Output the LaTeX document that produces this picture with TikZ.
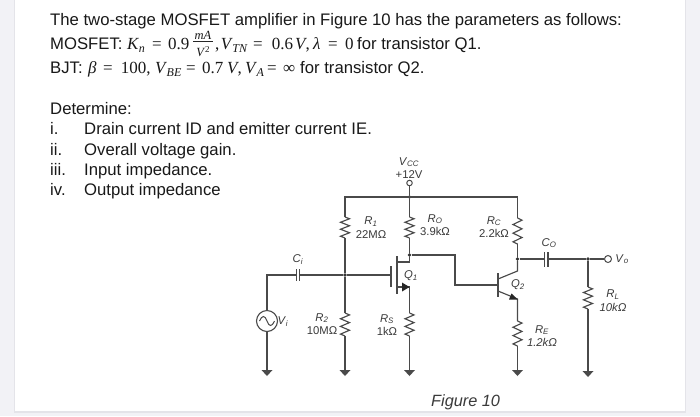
\documentclass[tikz,border=0pt]{standalone}
\usepackage{fontspec}
\setmainfont{Liberation Sans}
\newfontfamily\mf{Liberation Serif}
\usetikzlibrary{calc}
\definecolor{wire}{HTML}{4A4A4A}
\definecolor{lab}{HTML}{3A3A3A}
\definecolor{strip}{HTML}{F2F2F6}
\definecolor{stripedge}{HTML}{E4E4E9}
\tikzset{
  x=1pt,y=-1pt,
  wirepath/.style={draw=wire,line width=1.15pt},
  dot/.style={circle,fill=black!80,inner sep=0pt,minimum size=3.6pt},
  term/.style={circle,draw=wire,line width=1pt,fill=white,inner sep=0pt,minimum size=#1},
  term/.default=6pt,
  txt/.style={anchor=base west,inner sep=0pt,text=black!90,font=\fontsize{16.7}{18}\selectfont},
  mtxt/.style={anchor=base west,inner sep=0pt,text=black!90,font=\mf\fontsize{17}{18}\selectfont},
  clab/.style={inner sep=0pt,text=lab,align=center,font=\fontsize{11.3}{13.5}\selectfont},
  gnd/.pic={\fill[wire] (-5.5,-1) -- (5.5,-1) -- (0,5) -- cycle;},
}
\newcommand{\rsub}[2]{\textit{#1}\textsubscript{\textit{#2}}}
\newcommand{\mi}[1]{\textit{#1}}
\newcommand{\msub}[2]{\textit{#1}\kern-0.5pt\raisebox{-3pt}{\fontsize{12}{12}\selectfont\textit{#2}}}
\newcommand{\zig}[2]{\draw[wirepath,line join=miter]
  (#1) -- ($(#1)!0.0833!(#2)+(4.5,0)$) -- ($(#1)!0.25!(#2)+(-4.5,0)$)
  -- ($(#1)!0.4167!(#2)+(4.5,0)$) -- ($(#1)!0.5833!(#2)+(-4.5,0)$)
  -- ($(#1)!0.75!(#2)+(4.5,0)$) -- ($(#1)!0.9167!(#2)+(-4.5,0)$) -- (#2);}
\begin{document}
\begin{tikzpicture}
\useasboundingbox (0,0) rectangle (700,416);
\fill[strip] (0,0) rectangle (700,416);
\fill[white] (15,0) rectangle (685,412);
\draw[stripedge,line width=1.5pt] (14.5,0) -- (14.5,412) -- (685.5,412) -- (685.5,0);
% text
\node[txt] (t1) at (50,25) {The two-stage MOSFET amplifier in Figure 10 has the parameters as follows:};
\node[txt] (t2) at (50,49) {MOSFET:};
\node[mtxt] (m2a) at (127,49) {\msub{K}{n}};
\node[mtxt] (m2b) at (152,49) {=\hspace{6.4pt}0.9};
\node[inner sep=0pt,font=\mf\fontsize{12.5}{13}\selectfont,text=black!90] (m2f1) at (203,35.5) {\mi{mA}};
\node[inner sep=0pt,font=\mf\fontsize{12.5}{13}\selectfont,text=black!90] (m2f2) at (203,52) {\mi{V}\raisebox{4pt}{\fontsize{9}{9}\selectfont 2}};
\draw[black!85,line width=0.7pt] (193,41.2) -- (213,41.2);
\node[mtxt] (m2c) at (215,49) {,\hspace{1.5pt}\msub{V}{TN}};
\node[mtxt] (m2d) at (253,49) {=\hspace{9pt}0.6};
\node[mtxt] (m2e) at (295,49) {\mi{V},};
\node[mtxt] (m2g) at (313,49) {\mi{λ}};
\node[mtxt] (m2h) at (328,49) {=\hspace{7.4pt}0};
\node[txt] (t2b) at (357,49) {for transistor Q1.};
\node[txt] (t3) at (50,73) {BJT:};
\node[mtxt] (m3a) at (88,73) {\mi{β}};
\node[mtxt] (m3b) at (103,73) {=\hspace{8pt}100,};
\node[mtxt] (m3c) at (155,73) {\msub{V}{BE}};
\node[mtxt] (m3d) at (186,73) {=\hspace{6.4pt}0.7};
\node[mtxt] (m3e) at (227,73) {\mi{V},};
\node[mtxt] (m3f) at (245,73) {\msub{V}{A}};
\node[mtxt] (m3g) at (267,73) {=\hspace{6.4pt}∞};
\node[txt] (t3b) at (300,73) {for transistor Q2.};
\node[txt] (t4) at (50,114) {Determine:};
\node[txt] (t5) at (50,134) {i.};
\node[txt] (t5b) at (84,134) {Drain current ID and emitter current IE.};
\node[txt] (t6) at (50,155) {ii.};
\node[txt] (t6b) at (84,155) {Overall voltage gain.};
\node[txt] (t7) at (50,175) {iii.};
\node[txt] (t7b) at (84,175) {Input impedance.};
\node[txt] (t8) at (50,195) {iv.};
\node[txt] (t8b) at (84,195) {Output impedance};
% coordinates
\coordinate (r1t) at (345,197);
\coordinate (rct) at (517.5,197);
\coordinate (r1a) at (345,217);
\coordinate (r1b) at (345,238);
\coordinate (r0a) at (409.5,217);
\coordinate (r0b) at (409.5,238);
\coordinate (rca) at (517.5,218);
\coordinate (rcb) at (517.5,244);
\coordinate (r2a) at (345,313);
\coordinate (r2b) at (345,336);
\coordinate (rsa) at (409.5,313);
\coordinate (rsb) at (409.5,336);
\coordinate (rea) at (517.5,321);
\coordinate (reb) at (517.5,346);
\coordinate (rla) at (588,287);
\coordinate (rlb) at (588,309);
\coordinate (g1) at (267,371);
\coordinate (g2) at (345,371);
\coordinate (g3) at (409.5,371);
\coordinate (g4) at (517.5,371);
\coordinate (g5) at (588,372);
\node[dot] (d1) at (409.5,197) {};
\node[dot] (d2) at (409.5,255) {};
\node[dot] (d3) at (345,275) {};
\node[dot] (d4) at (517.5,259) {};
\node[dot] (d5) at (588,259) {};
% wires and resistors
\draw[wirepath] (r1a) -- (r1t) -- (rct) -- (rca);
\zig{r1a}{r1b}
\zig{r0a}{r0b}
\zig{rca}{rcb}
\zig{r2a}{r2b}
\zig{rsa}{rsb}
\zig{rea}{reb}
\zig{rla}{rlb}
\node[term=5.5pt] (vcc) at (409.5,183) {};
\draw[wirepath] (vcc) -- (d1) -- (r0a);
\draw[wirepath] (r0b) -- (d2);
\draw[wirepath] (r1b) -- (d3) -- (r2a);
\draw[wirepath] (r2b) -- (g2);
\draw[wirepath] (rsb) -- (g3);
\draw[wirepath] (reb) -- (g4);
\draw[wirepath] (rlb) -- (g5);
\draw[wirepath] (rcb) -- (d4);
% source
\node[circle,draw=wire,line width=1.1pt,minimum size=21pt,inner sep=0pt] (vs) at (267,321) {};
\draw[wire,line width=1pt] (259.5,321) .. controls (262,315) and (265,315) .. (267,321) .. controls (269,327) and (272,327) .. (274.5,321);
% input
\coordinate (ci1) at (296.5,275);
\coordinate (ci2) at (299.5,275);
\draw[wirepath] (vs) -- (g1);
\draw[wirepath] (vs) -- (267,275) -- (ci1);
\draw[wirepath] (296.5,269) -- (296.5,281);
\draw[wirepath] (299.5,269) -- (299.5,281);
% MOSFET
\coordinate (gate) at (391,275);
\draw[wirepath] (ci2) -- (d3) -- (gate);
\draw[wirepath] (391,266) -- (391,287);
\draw[wirepath] (397,256) -- (397,294);
\draw[wirepath] (397,262) -- (409.5,262) -- (d2);
\draw[wirepath] (397,287) -- (409.5,287) -- (rsa);
\fill[black!85] (409.5,287) -- (402,282.5) -- (402,291.5) -- cycle;
% interstage
\coordinate (base) at (498,285);
\draw[wirepath] (d2) -- (455,255) -- (455,285) -- (base);
\draw[wirepath] (498,273) -- (498,297);
\draw[wirepath] (d4) -- (517.5,271) -- (498,279);
\draw[wirepath] (498,291) -- (517.5,299) -- (rea);
\fill[black!85] (517.5,299.5) -- (509,299.5) -- (511.5,293.5) -- cycle;
% output
\coordinate (co1) at (544.5,259);
\coordinate (co2) at (548,259);
\node[term=7pt] (vo) at (608,259) {};
\draw[wirepath] (d4) -- (co1);
\draw[wirepath] (544.5,252) -- (544.5,267);
\draw[wirepath] (548,252) -- (548,267);
\draw[wirepath] (co2) -- (d5) -- (vo);
\draw[wirepath] (d5) -- (rla);
% grounds
\foreach \g in {g1,g2,g3,g4,g5} \path (\g) pic {gnd};
% labels
\node[clab] (lv) at (409,168) {\rsub{V}{CC}\\+12V};
\node[clab] (l1) at (371,227.5) {\rsub{R}{1}\\22MΩ};
\node[clab] (l2) at (435,225) {\rsub{R}{O}\\3.9kΩ};
\node[clab] (l3) at (494,227) {\rsub{R}{C}\\2.2kΩ};
\node[clab] (l4) at (298,260) {\rsub{C}{i}};
\node[clab] (l5) at (549,243) {\rsub{C}{O}};
\node[clab] (lq1) at (411,276) {\rsub{Q}{1}};
\node[clab] (lq2) at (518,285) {\rsub{Q}{2}};
\node[clab] (lvi) at (283,322) {\rsub{V}{i}};
\node[clab] (lvo) at (622,259) {\rsub{V}{o}};
\node[clab] (l6) at (322,324) {\rsub{R}{2}\\10MΩ};
\node[clab] (l7) at (387,325) {\rsub{R}{S}\\1kΩ};
\node[clab,font=\itshape\fontsize{11.3}{13.5}\selectfont] (l8) at (542,336) {\rsub{R}{E}\\1.2kΩ};
\node[clab,font=\itshape\fontsize{11.3}{13.5}\selectfont] (l9) at (613,300.5) {\rsub{R}{L}\\10kΩ};
\node[inner sep=0pt,anchor=base west,text=lab,font=\itshape\fontsize{16.3}{18}\selectfont] (fig) at (431,406) {Figure 10};
\end{tikzpicture}
\end{document}
